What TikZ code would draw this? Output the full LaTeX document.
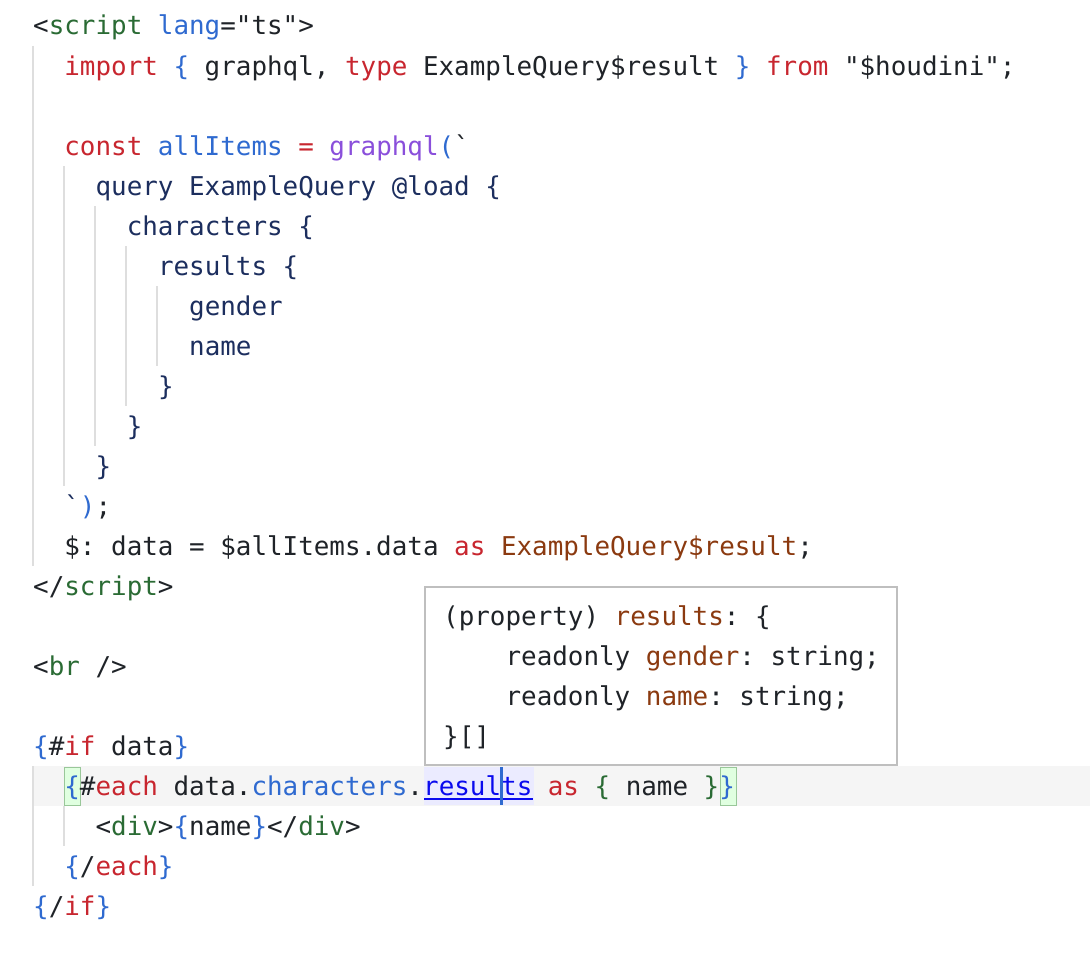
\documentclass[tikz,border=0pt]{standalone}
\usepackage{fontspec}
\setmonofont{DejaVu Sans Mono}
\definecolor{cgreen}{HTML}{2A6B34}
\definecolor{cred}{HTML}{C8262F}
\definecolor{cblue}{HTML}{2F6AD0}
\definecolor{cnavy}{HTML}{1C2E5E}
\definecolor{cpurple}{HTML}{8A4FDB}
\definecolor{cbrown}{HTML}{8B3A10}
\definecolor{cblack}{HTML}{1F2328}
\definecolor{clink}{HTML}{0A0AEE}
\newcommand\cG[1]{\textcolor{cgreen}{#1}}
\newcommand\cR[1]{\textcolor{cred}{#1}}
\newcommand\cB[1]{\textcolor{cblue}{#1}}
\newcommand\cN[1]{\textcolor{cnavy}{#1}}
\newcommand\cP[1]{\textcolor{cpurple}{#1}}
\newcommand\cBr[1]{\textcolor{cbrown}{#1}}
\newcommand\qq{\symbol{34}}
\newcommand\bt{\symbol{96}}
\newcommand\cl[3]{\node[codeline] (#1) at ({33+#2*15.6},{#3+9})}
\newcommand\LY[1]{26+40*(#1-1)}
\begin{document}
\begin{tikzpicture}[x=1pt,y=-1pt,
  codeline/.style={anchor=base west,inner sep=0,text=cblack,font=\ttfamily\fontsize{25.9}{40}\selectfont},
  guide/.style={draw=black!13,line width=1.5pt},
  brk/.style={fill=green!12,draw=green!45!black!40,line width=1pt}]
\useasboundingbox (0,0) rectangle (1090,958);
\fill[white] (0,0) rectangle (1090,958);
% highlight band
\fill[black!4] (33,766) rectangle (1090,806);
\fill[blue!8] (424,767) rectangle (534,805);
\draw[brk] (64,767) rectangle (80,805);
\draw[brk] (720,767) rectangle (736,805);
% guides
\draw[guide] (33,46) -- (33,566);
\draw[guide] (64,166) -- (64,486);
\draw[guide] (95,206) -- (95,446);
\draw[guide] (126,246) -- (126,406);
\draw[guide] (157,286) -- (157,366);
\draw[guide] (33,766) -- (33,886);
\draw[guide] (64,806) -- (64,846);
% code
\cl{l1}{0}{\LY{1}}{<\cG{script} \cB{lang}=\qq ts\qq>};
\cl{l2}{2}{\LY{2}}{\cR{import} \cB{\{} graphql, \cR{type} ExampleQuery\$result \cB{\}} \cR{from} \qq\$houdini\qq;};
\cl{l4}{2}{\LY{4}}{\cR{const} \cB{allItems} \cR{=} \cP{graphql}\cB{(}\bt};
\cl{l5}{4}{\LY{5}}{\cN{query ExampleQuery @load \{}};
\cl{l6}{6}{\LY{6}}{\cN{characters \{}};
\cl{l7}{8}{\LY{7}}{\cN{results \{}};
\cl{l8}{10}{\LY{8}}{\cN{gender}};
\cl{l9}{10}{\LY{9}}{\cN{name}};
\cl{l10}{8}{\LY{10}}{\cN{\}}};
\cl{l11}{6}{\LY{11}}{\cN{\}}};
\cl{l12}{4}{\LY{12}}{\cN{\}}};
\cl{l13}{2}{\LY{13}}{\cN{\bt}\cB{)};};
\cl{l14}{2}{\LY{14}}{\$: data = \$allItems.data \cR{as} \cBr{ExampleQuery\$result};};
\cl{l15}{0}{\LY{15}}{</\cG{script}>};
\cl{l17}{0}{\LY{17}}{<\cG{br} />};
\cl{l19}{0}{\LY{19}}{\cB{\{}\#\cR{if} data\cB{\}}};
\cl{l20}{2}{\LY{20}}{\cB{\{}\#\cR{each} data.\cB{characters}.\phantom{results} \cR{as} \cG{\{} name \cG{\}}\cB{\}}};
\cl{l20r}{25}{\LY{20}}{\textcolor{clink}{results}};
\draw[clink,line width=1.3pt] (424,799) -- (533,799);
\draw[cblue,line width=3pt] (501,767) -- (501,805);
\cl{l21}{4}{\LY{21}}{<\cG{div}>\cB{\{}name\cB{\}}</\cG{div}>};
\cl{l22}{2}{\LY{22}}{\cB{\{}/\cR{each}\cB{\}}};
\cl{l23}{0}{\LY{23}}{\cB{\{}/\cR{if}\cB{\}}};
% tooltip
\draw[black!25,fill=white,line width=1.5pt] (425,587) rectangle (897,765);
\node[codeline] (t1) at (443,625) {(property) \cBr{results}: \{};
\node[codeline] (t2) at (443,665) {\phantom{xxxx}readonly \cBr{gender}: string;};
\node[codeline] (t3) at (443,705) {\phantom{xxxx}readonly \cBr{name}: string;};
\node[codeline] (t4) at (443,745) {\}[]};
\end{tikzpicture}
\end{document}
